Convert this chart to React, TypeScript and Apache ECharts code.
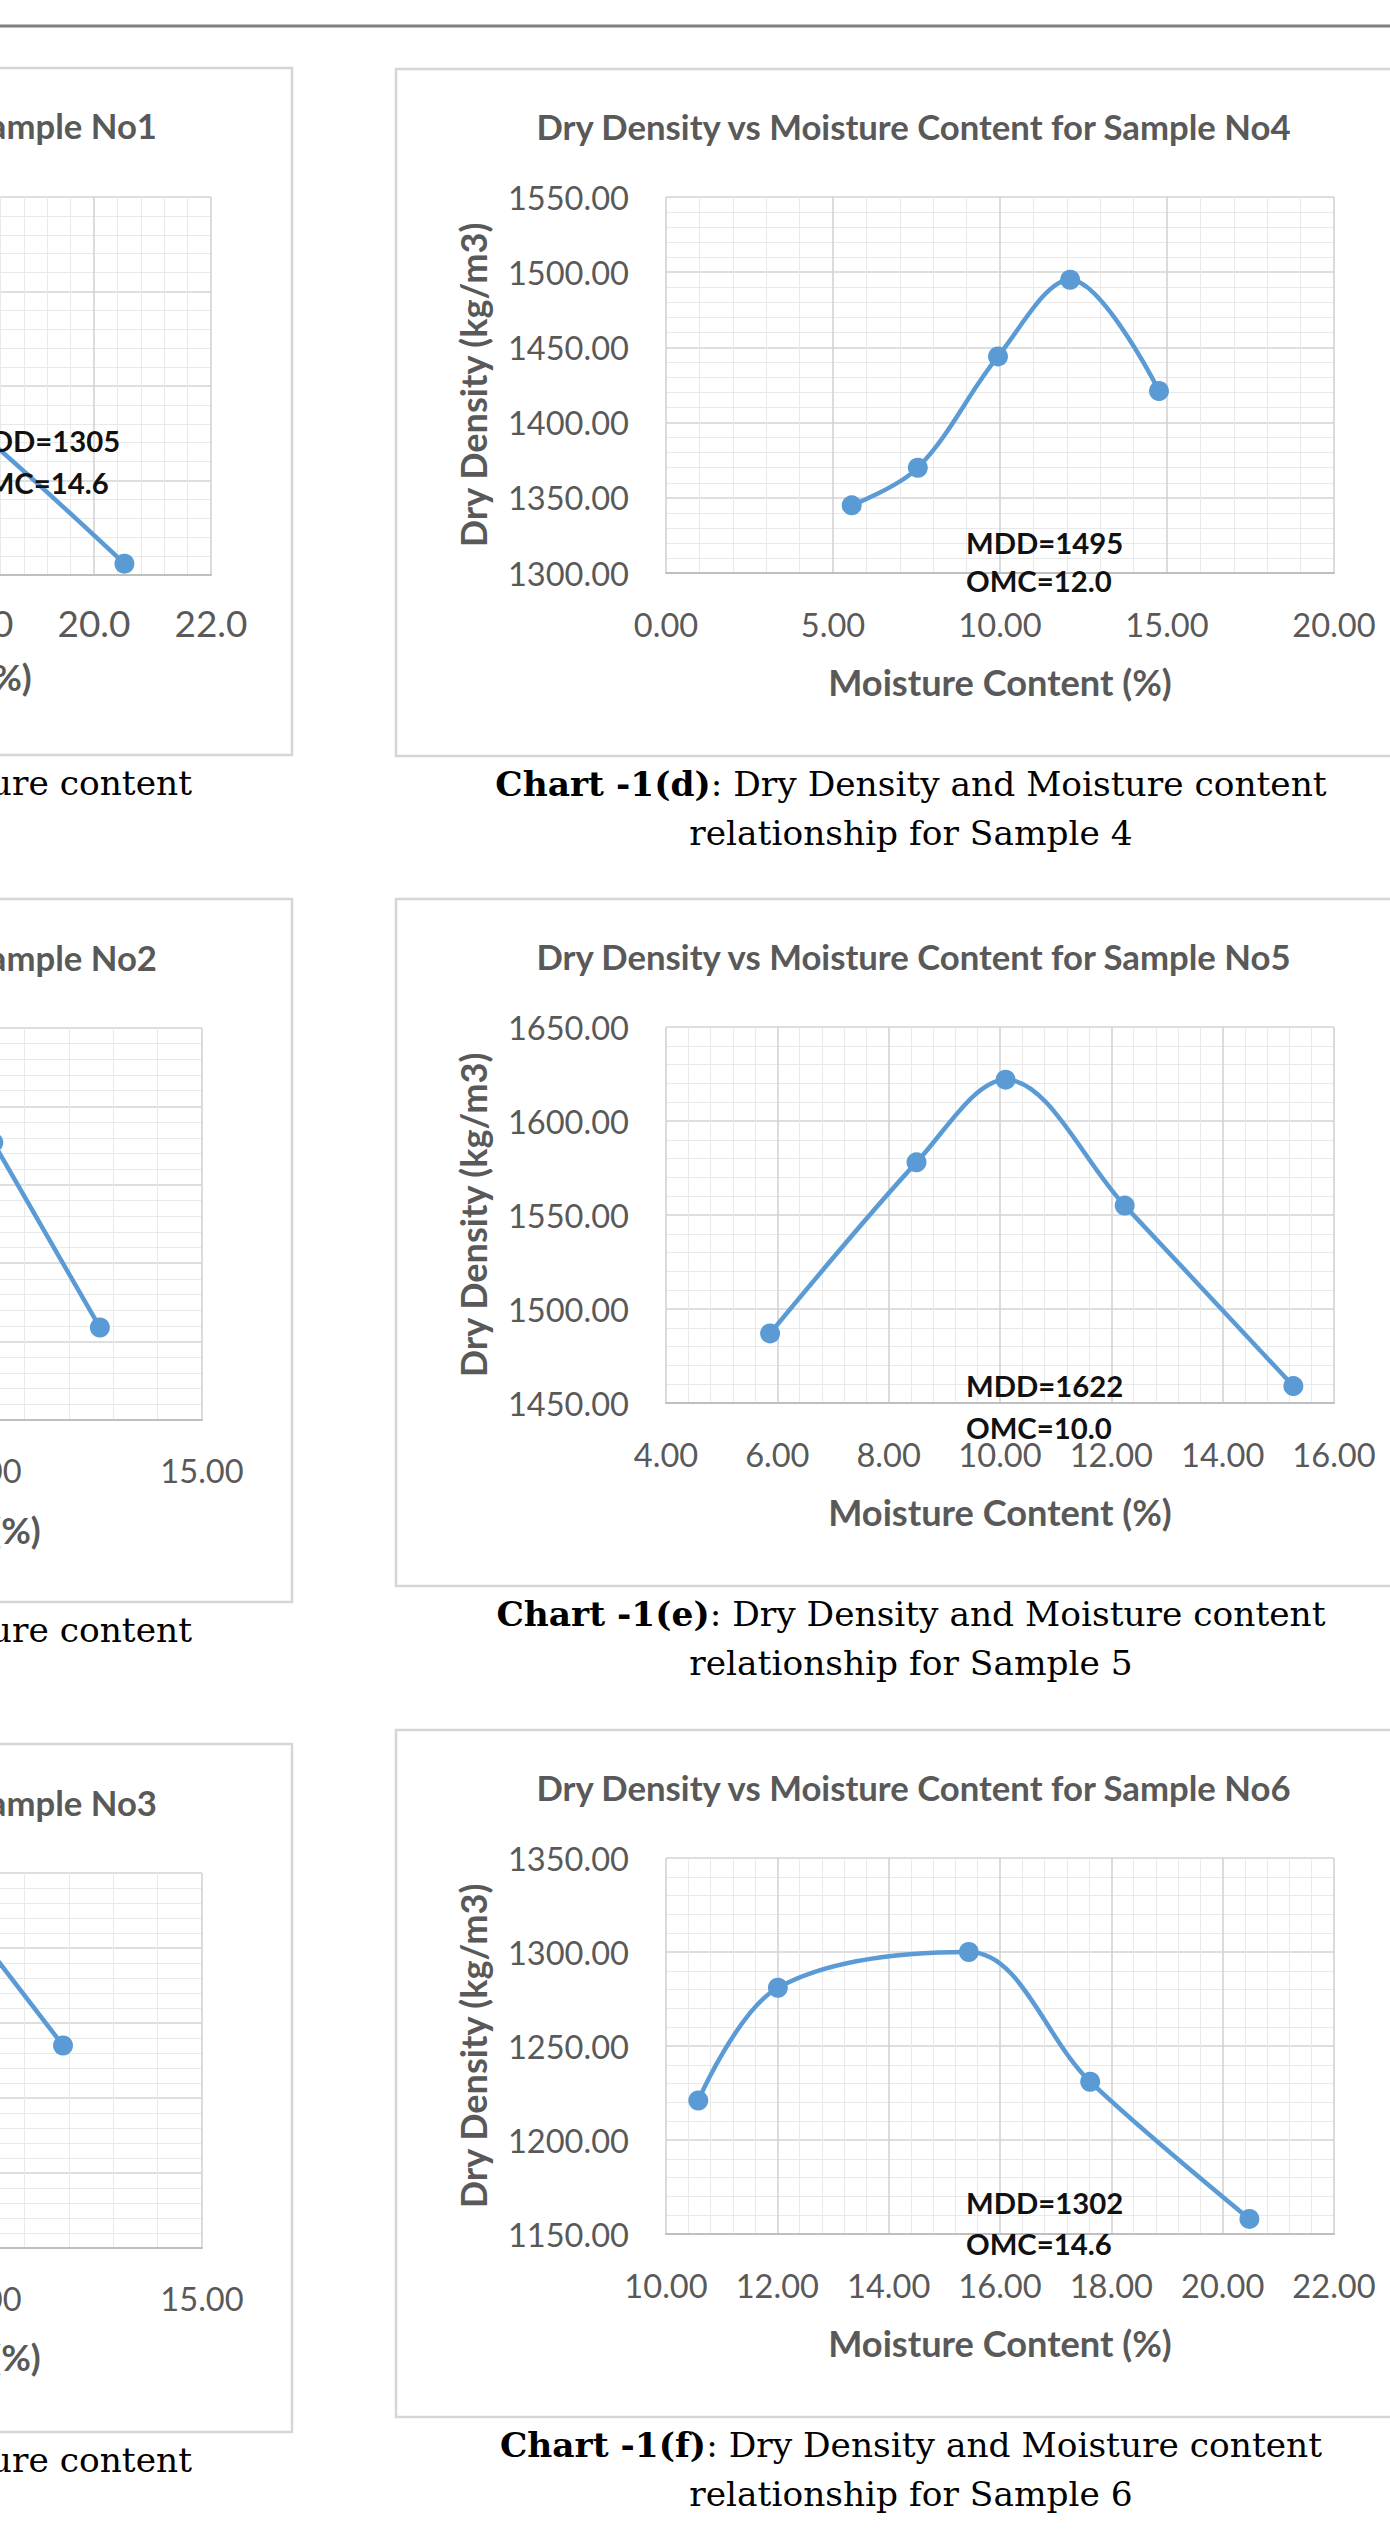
import React, { useEffect, useRef } from "react";
import * as echarts from "echarts";

const PAGE_W = 1390;
const PAGE_H = 2546;

// ---------- data (moisture %, dry density kg/m3) ----------
const sample1Moisture = [14.6, 17.6, 20.52];
const sample1Density = [1305, 1237, 1156];
const sample2Moisture = [10.3, 12.7];
const sample2Density = [1527, 1409];
const sample3Moisture = [10.0, 11.87];
const sample3Density = [1557, 1485];
const sample4Moisture = [5.56, 7.54, 9.94, 12.1, 14.76];
const sample4Density = [1345, 1370, 1444, 1495, 1421];
const sample5Moisture = [5.87, 8.5, 10.1, 12.24, 15.27];
const sample5Density = [1487, 1578, 1622, 1555, 1459];
const sample6Moisture = [10.58, 12.01, 15.44, 17.62, 20.48];
const sample6Density = [1221, 1281, 1300, 1231, 1158];

// axis ranges [min, max, interval]
const sample1XAxis = [10, 22, 2];
const sample1YAxis = [1150, 1350, 50];
const sample2XAxis = [0, 15, 5];
const sample2YAxis = [1350, 1600, 50];
const sample3XAxis = [0, 15, 5];
const sample3YAxis = [1350, 1600, 50];
const sample4XAxis = [0, 20, 5];
const sample4YAxis = [1300, 1550, 50];
const sample5XAxis = [4, 16, 2];
const sample5YAxis = [1450, 1650, 50];
const sample6XAxis = [10, 22, 2];
const sample6YAxis = [1150, 1350, 50];

const sample1Note = ["MDD=1305", "OMC=14.6"];
const sample4Note = ["MDD=1495", "OMC=12.0"];
const sample5Note = ["MDD=1622", "OMC=10.0"];
const sample6Note = ["MDD=1302", "OMC=14.6"];

const chartLetters = ["a", "b", "c", "d", "e", "f"];
const sampleNumbers = ["1", "2", "3", "4", "5", "6"];

// ---------- styles ----------
const SANS = "Lato, 'Open Sans', Arial, sans-serif";
const SERIF = "'DejaVu Serif', serif";
const BLUE = "#5B9BD5";
const GREY_TEXT = "#595959";

function textWidth(text: string, font: string) {
  const c = document.createElement("canvas");
  const ctx = c.getContext("2d")!;
  ctx.font = font;
  return ctx.measureText(text).width;
}
function fit(text: string, weight: string, family: string, target: number) {
  const w = textWidth(text, `${weight} 100px ${family}`);
  return Math.round((1000 * target) / w) / 10;
}

type Panel = {
  idx: number;
  side: "L" | "R";
  box: [number, number, number, number];
  grid: [number, number, number, number];
  xa: number[];
  ya: number[];
  xMinor: number;
  yMinor: number;
  xDec: number;
  xGap: number;
  labelFrom: number;
  mx: number[];
  dy: number[];
  titleY: number;
  xTitle: [number, number];
  yTitle?: [number, number];
  note?: string[];
  noteAt?: [number, number, number];
  capY: number;
};

function buildPanels(): Panel[] {
  const right = (i: number, top: number, xa: number[], ya: number[], mx: number[], dy: number[], note: string[], n1: number, n2: number): Panel => ({
    idx: i,
    side: "R",
    box: [396, top, 1000, 687],
    grid: [666, top + 128, 668, 376],
    xa,
    ya,
    xMinor: 5,
    yMinor: 5,
    xDec: 2,
    xGap: 51,
    labelFrom: -Infinity,
    mx,
    dy,
    titleY: top + 57,
    xTitle: [1000, top + 613],
    yTitle: [473, top + 128 + 188],
    note,
    noteAt: [966, n1, n2],
    capY: top + 687 + 28,
  });
  return [
    {
      idx: 0, side: "L", box: [-720, 68, 1012, 687], grid: [-491, 197, 702, 378],
      xa: sample1XAxis, ya: sample1YAxis, xMinor: 5, yMinor: 5, xDec: 1, xGap: 48, labelFrom: 18,
      mx: sample1Moisture, dy: sample1Density, titleY: 125, xTitle: [-140, 677],
      note: sample1Note, noteAt: [-37, 440, 482], capY: 783,
    },
    {
      idx: 1, side: "L", box: [-720, 899, 1012, 703], grid: [-464, 1028, 666, 392],
      xa: sample2XAxis, ya: sample2YAxis, xMinor: 5, yMinor: 5, xDec: 2, xGap: 50, labelFrom: 10,
      mx: sample2Moisture, dy: sample2Density, titleY: 957, xTitle: [-131, 1530], capY: 1630,
    },
    {
      idx: 2, side: "L", box: [-720, 1744, 1012, 688], grid: [-464, 1873, 666, 375],
      xa: sample3XAxis, ya: sample3YAxis, xMinor: 5, yMinor: 5, xDec: 2, xGap: 50, labelFrom: 10,
      mx: sample3Moisture, dy: sample3Density, titleY: 1802, xTitle: [-131, 2357], capY: 2460,
    },
    right(3, 69, sample4XAxis, sample4YAxis, sample4Moisture, sample4Density, sample4Note, 542, 580),
    right(4, 899, sample5XAxis, sample5YAxis, sample5Moisture, sample5Density, sample5Note, 1385, 1427),
    right(5, 1730, sample6XAxis, sample6YAxis, sample6Moisture, sample6Density, sample6Note, 2202, 2243),
  ];
}

function buildOption() {
  const titleSize = fit("Dry Density vs Moisture Content for Sample No4", "bold", SANS, 757);
  const tickSize = fit("1550.00", "normal", SANS, 121);
  const tick1Size = fit("22.0", "normal", SANS, 73);
  const yTitleSize = fit("Dry Density (kg/m3)", "bold", SANS, 327);
  const xTitleSize = fit("Moisture Content (%)", "bold", SANS, 344);
  const noteSize = fit("MDD=1495", "bold", SANS, 157);
  const capW =
    textWidth("Chart -1(d)", `bold 100px ${SERIF}`) +
    textWidth(": Dry Density and Moisture content", `normal 100px ${SERIF}`);
  const capSize = Math.round((1000 * 832) / capW) / 10;

  const panels = buildPanels();
  const grids: any[] = [];
  const xAxes: any[] = [];
  const yAxes: any[] = [];
  const series: any[] = [];
  const graphics: any[] = [
    {
      type: "line",
      shape: { x1: 0, y1: 26, x2: PAGE_W, y2: 26 },
      style: { stroke: "#7f7f7f", lineWidth: 3 },
      z: 50,
    },
  ];

  panels.forEach((p, i) => {
    const [gl, gt, gw, gh] = p.grid;
    grids.push({ left: gl, top: gt, width: gw, height: gh, containLabel: false, outerBoundsMode: "none" });
    const major = { show: true, lineStyle: { color: "#d3d3d3", width: 1.6 } };
    const minor = { show: true, lineStyle: { color: "#e9e9e9", width: 1 } };
    xAxes.push({
      gridIndex: i,
      type: "value",
      min: p.xa[0],
      max: p.xa[1],
      interval: p.xa[2],
      axisLine: { show: true, onZero: false, lineStyle: { color: "#bfbfbf", width: 2 } },
      axisTick: { show: false },
      axisLabel: {
        show: true,
        margin: p.xGap,
        verticalAlign: "middle",
        color: GREY_TEXT,
        fontFamily: SANS,
        fontSize: p.idx === 0 ? tick1Size : tickSize,
        showMinLabel: true,
        showMaxLabel: true,
        formatter: (v: number) => (v >= p.labelFrom ? v.toFixed(p.xDec) : ""),
      },
      splitLine: major,
      minorTick: { show: false, splitNumber: p.xMinor },
      minorSplitLine: minor,
    });
    yAxes.push({
      gridIndex: i,
      type: "value",
      min: p.ya[0],
      max: p.ya[1],
      interval: p.ya[2],
      axisLine: { show: false },
      axisTick: { show: false },
      axisLabel: {
        show: p.side === "R",
        margin: 37,
        color: GREY_TEXT,
        fontFamily: SANS,
        fontSize: tickSize,
        showMinLabel: true,
        showMaxLabel: true,
        formatter: (v: number) => v.toFixed(2),
      },
      splitLine: major,
      minorTick: { show: false, splitNumber: p.yMinor },
      minorSplitLine: minor,
    });
    series.push({
      type: "line",
      xAxisIndex: i,
      yAxisIndex: i,
      data: p.mx.map((x, j) => [x, p.dy[j]]),
      smooth: 0.35,
      symbol: "circle",
      symbolSize: 20,
      showSymbol: true,
      clip: false,
      silent: true,
      lineStyle: { color: BLUE, width: 4.5 },
      itemStyle: { color: BLUE },
      z: 5,
    });

    const [bx, by, bw, bh] = p.box;
    graphics.push({
      type: "rect",
      shape: { x: bx, y: by, width: bw, height: bh },
      style: { fill: "transparent", stroke: "#d6d6d6", lineWidth: 2.5 },
      z: 1,
    });

    const title = `Dry Density vs Moisture Content for Sample No${sampleNumbers[p.idx]}`;
    graphics.push({
      type: "text",
      x: p.side === "R" ? 913.5 : 157,
      y: p.titleY,
      z: 60,
      style: {
        text: title,
        fill: GREY_TEXT,
        fontFamily: SANS,
        fontWeight: "bold",
        fontSize: titleSize,
        align: p.side === "R" ? "center" : "right",
        verticalAlign: "middle",
      },
    });
    graphics.push({
      type: "text",
      x: p.xTitle[0],
      y: p.xTitle[1],
      z: 60,
      style: {
        text: "Moisture Content (%)",
        fill: GREY_TEXT,
        fontFamily: SANS,
        fontWeight: "bold",
        fontSize: xTitleSize,
        align: "center",
        verticalAlign: "middle",
      },
    });
    if (p.yTitle) {
      graphics.push({
        type: "text",
        x: p.yTitle[0],
        y: p.yTitle[1],
        rotation: Math.PI / 2,
        z: 60,
        style: {
          text: "Dry Density (kg/m3)",
          fill: GREY_TEXT,
          fontFamily: SANS,
          fontWeight: "bold",
          fontSize: yTitleSize,
          align: "center",
          verticalAlign: "middle",
        },
      });
    }
    if (p.note && p.noteAt) {
      [0, 1].forEach((k) => {
        graphics.push({
          type: "text",
          x: p.noteAt![0],
          y: p.noteAt![1 + k],
          z: 60,
          style: {
            text: p.note![k],
            fill: "#111111",
            fontFamily: SANS,
            fontWeight: "bold",
            fontSize: noteSize,
            align: "left",
            verticalAlign: "middle",
          },
        });
      });
    }
    const letter = chartLetters[p.idx];
    graphics.push({
      type: "text",
      x: p.side === "R" ? 911 : 192,
      y: p.capY,
      z: 60,
      style: {
        text: `{b|Chart -1(${letter})}{r|: Dry Density and Moisture content}`,
        align: p.side === "R" ? "center" : "right",
        verticalAlign: "middle",
        rich: {
          b: { fontFamily: SERIF, fontWeight: "bold", fontSize: capSize, fill: "#000" },
          r: { fontFamily: SERIF, fontWeight: "normal", fontSize: capSize, fill: "#000" },
        },
      },
    });
    if (p.side === "R") {
      graphics.push({
        type: "text",
        x: 911,
        y: p.capY + 49,
        z: 60,
        style: {
          text: `relationship for Sample ${sampleNumbers[p.idx]}`,
          fill: "#000",
          fontFamily: SERIF,
          fontSize: capSize,
          align: "center",
          verticalAlign: "middle",
        },
      });
    }
  });

  return {
    animation: false,
    backgroundColor: "#ffffff",
    grid: grids,
    xAxis: xAxes,
    yAxis: yAxes,
    series,
    graphic: { elements: graphics },
  };
}

export default function App() {
  const ref = useRef<HTMLDivElement>(null);
  useEffect(() => {
    if (!ref.current) return;
    const chart = echarts.init(ref.current, undefined, { renderer: "svg", width: PAGE_W, height: PAGE_H });
    chart.setOption(buildOption() as any);
    return () => chart.dispose();
  }, []);
  return (
    <div
      style={{ position: "absolute", left: 0, top: 0, width: PAGE_W, height: PAGE_H, overflow: "hidden", background: "#fff" }}
    >
      <div ref={ref} style={{ width: PAGE_W, height: PAGE_H }} />
    </div>
  );
}
